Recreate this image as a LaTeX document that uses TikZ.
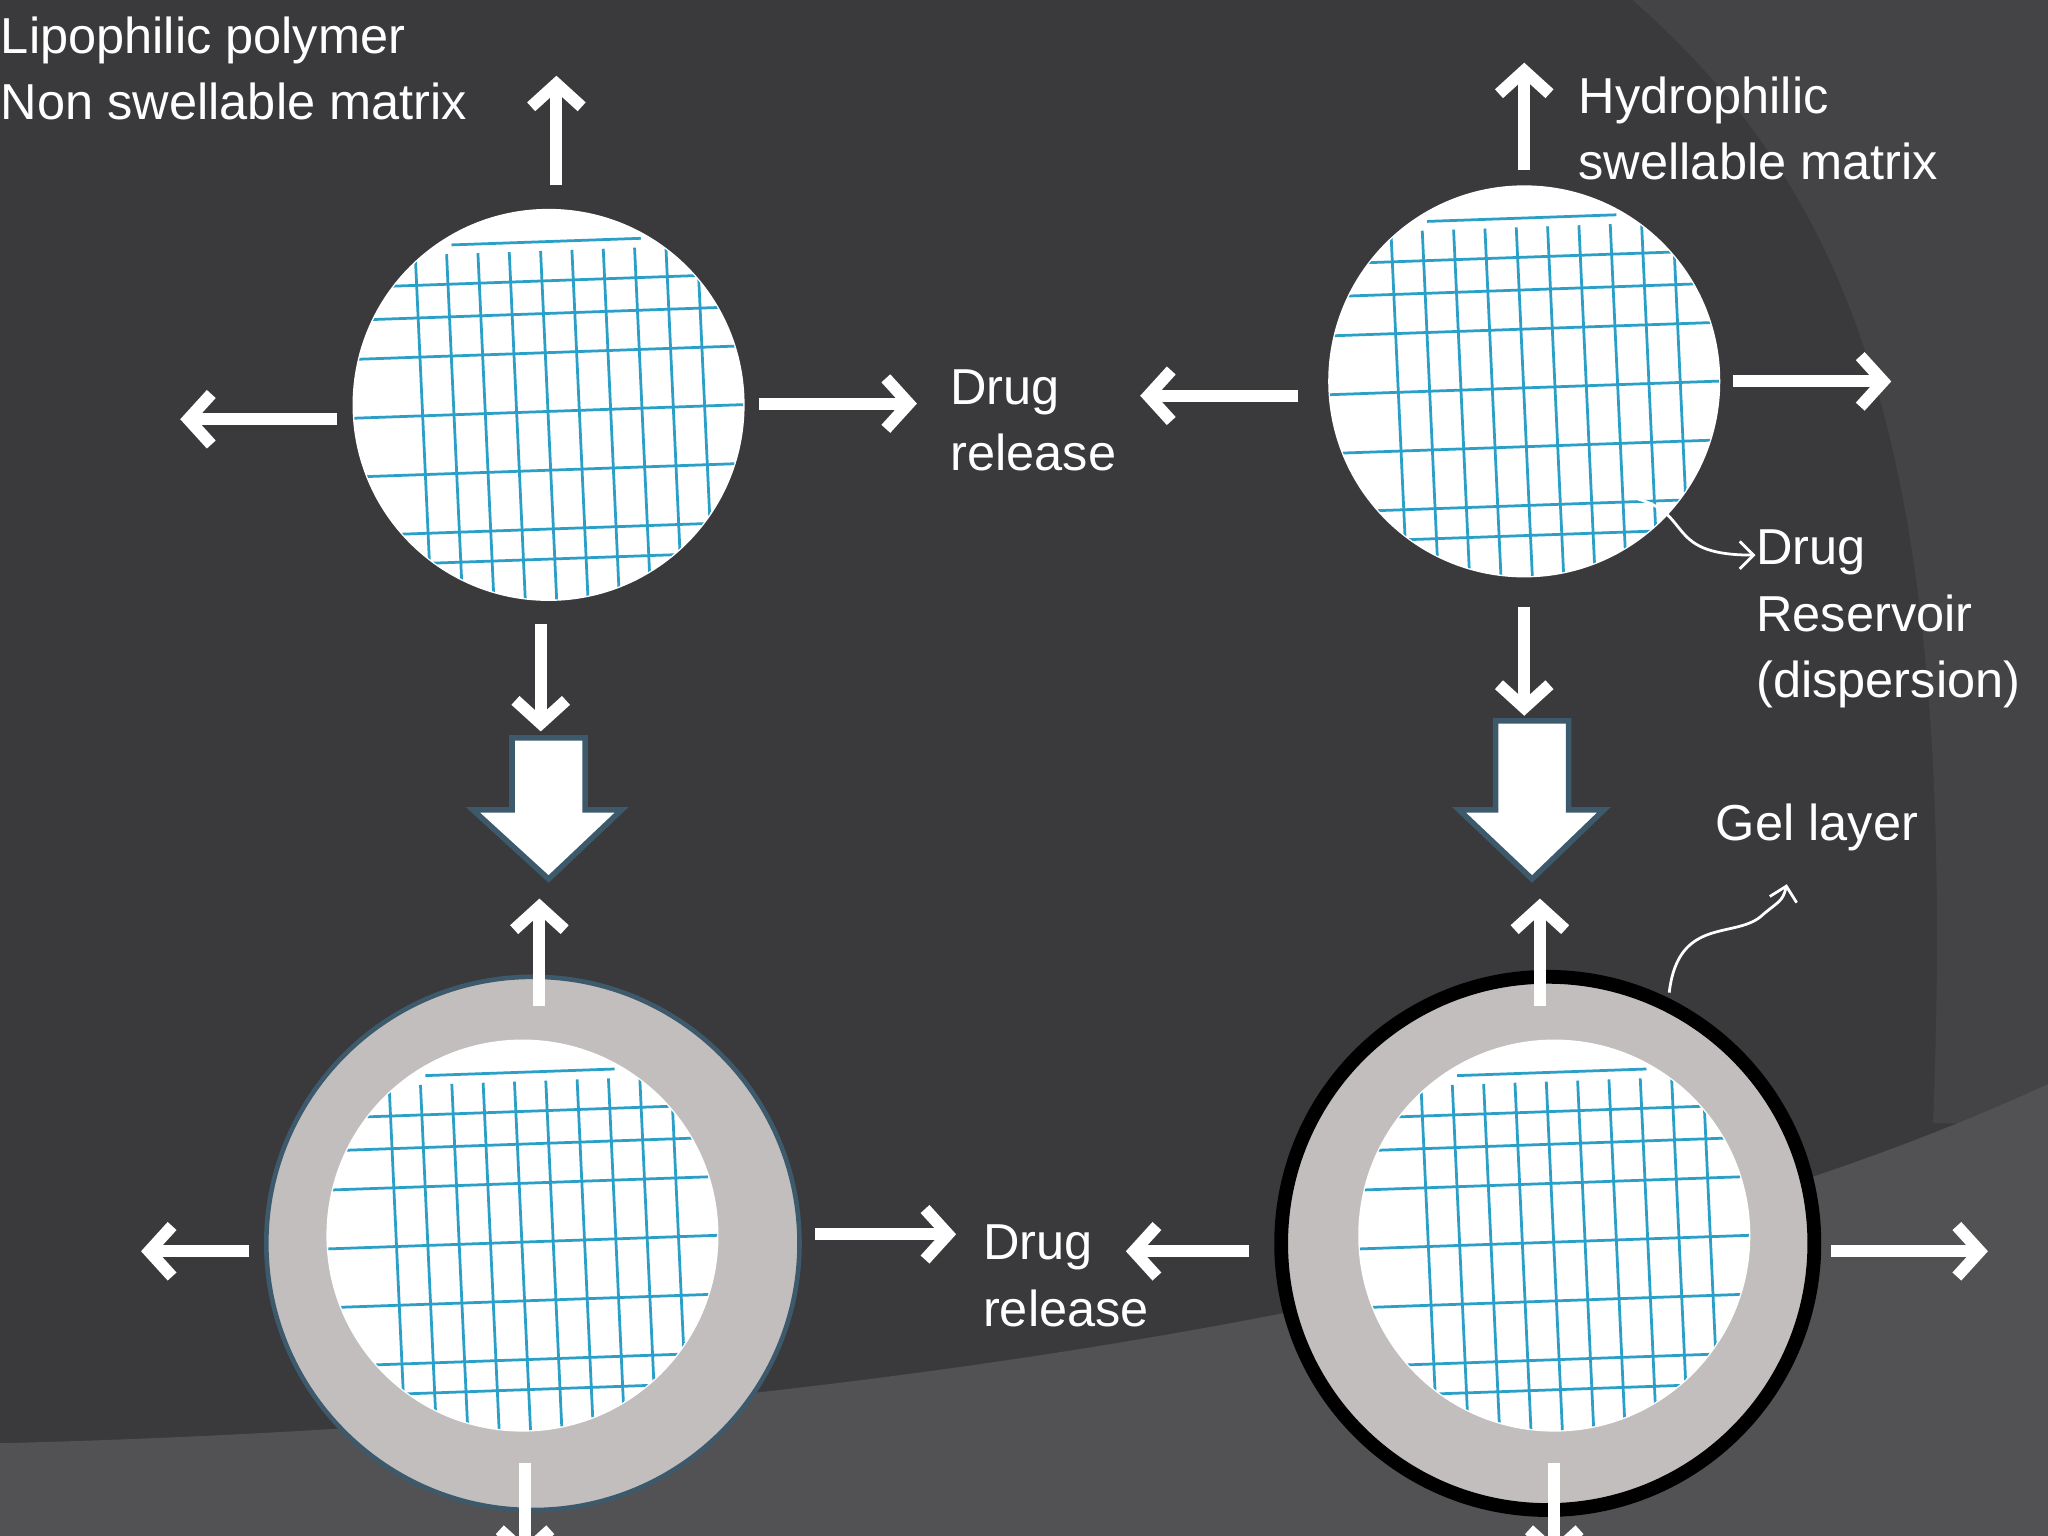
\documentclass[tikz,border=0pt]{standalone}
\usepackage{fontspec}
\setmainfont{Liberation Sans}
\usetikzlibrary{arrows.meta}
\definecolor{bg}{HTML}{3A3A3C}
\definecolor{bgl}{HTML}{444446}
\definecolor{bgb}{HTML}{525254}
\definecolor{mesh}{HTML}{2A9FC8}
\definecolor{ring}{HTML}{C2BEBE}
\definecolor{slate}{HTML}{3D5A6C}
\tikzset{
  rel/.style={white,line width=2.6pt,-{Straight Barb[length=5pt,width=11pt,line width=2.6pt]}},
  lbl/.style={white,anchor=north west,align=left,font=\fontsize{11}{14.5}\selectfont,inner sep=0pt},
  thin/.style={white,line width=0.6pt,-{Straight Barb[length=3pt,width=6pt]}},
  block/.style={fill=white,draw=slate,line width=1.2pt,line join=miter},
}
\newcommand\meshdisk[3]{%
  \node[circle,fill=white,minimum size=3cm,inner sep=0pt] (#3) at (#1,#2) {};
  \begin{scope}
    \clip (#1,#2) circle[radius=149];
    \begin{scope}[shift={(#1,#2)},rotate=2]
      \foreach \u in {-98,-74,-50,-26,-2,22,46,70,94,118}
        \draw[mesh,line width=0.6pt] (\u,-118) -- (\u+3,150);
      \foreach \v in {-95,-40,5,50,95,118}
        \draw[mesh,line width=0.6pt] (-150,\v) -- (150,\v);
      \draw[mesh,line width=0.6pt] (-70,-125) -- (75,-125);
      \draw[mesh,line width=0.6pt] (-150,-70) -- (150,-70);
    \end{scope}
  \end{scope}}
\begin{document}
\begin{tikzpicture}[x=0.01cm,y=-0.01cm]
\useasboundingbox (0,0) rectangle (1568,1176);
\fill[bg] (0,0) rectangle (1568,1176);
\fill[bgl] (1250,0) .. controls (1420,150) and (1500,350) .. (1480,860) -- (1568,860) -- (1568,0) -- cycle;
\fill[bgb] (0,1105) .. controls (600,1090) and (1200,1000) .. (1568,830) -- (1568,1176) -- (0,1176) -- cycle;
% top left
\meshdisk{420}{310}{tl}
\draw[rel] (426,142) -- (426,58);
\draw[rel] (258,321) -- (138,321);
\draw[rel] (581,309) -- (702,309);
\draw[rel] (414,478) -- (414,560);
\draw[block] (392,565) -- (448,565) -- (448,620) -- (476,620) -- (420,673) -- (362,620) -- (392,620) -- cycle;
% top right
\meshdisk{1167}{292}{tr}
\draw[rel] (1167,130) -- (1167,48);
\draw[rel] (994,303) -- (873,303);
\draw[rel] (1327,292) -- (1448,292);
\draw[rel] (1167,465) -- (1167,548);
\draw[block] (1145,552) -- (1201,552) -- (1201,620) -- (1228,620) -- (1173,673) -- (1117,620) -- (1145,620) -- cycle;
% bottom left
\node[circle,fill=ring,draw=slate,line width=1pt,minimum size=4.08cm,inner sep=0pt] (blring) at (408,952) {};
\meshdisk{400}{946}{bl}
\draw[rel] (413,770) -- (413,688);
\draw[rel] (191,958) -- (108,958);
\draw[rel] (624,945) -- (732,945);
\draw[rel] (402,1120) -- (402,1195);
% bottom right
\node[circle,fill=ring,draw=black,line width=3pt,minimum size=4.08cm,inner sep=0pt] (brring) at (1185,952) {};
\meshdisk{1190}{946}{br}
\draw[rel] (1179,770) -- (1179,688);
\draw[rel] (956,958) -- (862,958);
\draw[rel] (1402,958) -- (1522,958);
\draw[rel] (1190,1120) -- (1190,1195);
% labels
\node[lbl] (l1) at (0,12) {Lipophilic polymer\\Non swellable matrix};
\node[lbl] (l2) at (1208,58) {Hydrophilic\\swellable matrix};
\node[lbl] (l3) at (727,282) {Drug\\release};
\node[lbl] (l4) at (1344,405) {Drug\\Reservoir\\(dispersion)};
\node[lbl] (l5) at (1313,615) {Gel layer};
\node[lbl] (l6) at (752,937) {Drug\\release};
\coordinate (a1) at (1245,380);
\coordinate (a2) at (1278,760);
\draw[thin] (a1) .. controls (1300,390) and (1270,425) .. (l4.west |- 0,425);
\draw[thin] (a2) .. controls (1285,700) and (1330,720) .. (1350,700) .. controls (1362,690) and (1365,690) .. (1368,677);
\end{tikzpicture}
\end{document}
